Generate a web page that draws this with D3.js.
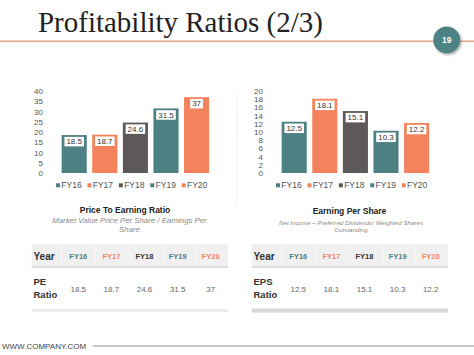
<!DOCTYPE html>
<html>
<head>
<meta charset="utf-8">
<script src="https://cdn.jsdelivr.net/npm/d3@7"></script>
<style>
  html, body { margin: 0; padding: 0; background: #fff; }
  svg { display: block; font-family: "Liberation Sans", Arial, sans-serif; }
</style>
</head>
<body>
<svg id="chart" width="474" height="355"></svg>
<script>
// ---- data ----
const categories = ["FY16", "FY17", "FY18", "FY19", "FY20"];
const peValues = [18.5, 18.7, 24.6, 31.5, 37];
const epsValues = [12.5, 18.1, 15.1, 10.3, 12.2];
const peTicks = [0, 5, 10, 15, 20, 25, 30, 35, 40];
const epsTicks = [0, 2, 4, 6, 8, 10, 12, 14, 16, 18, 20];
const titleText = "Profitability Ratios (2/3)";
const pageNumber = "19";
const panelTitles = ["Price To Earning Ratio", "Earning Per Share"];
const panelSubtitles = [
  ["Market Value Price Per Share / Earnings Per", "Share"],
  ["Net Income \u2013 Preferred Dividends/ Weighted Shares", "Outstanding"]
];
const rowLabels = [["PE", "Ratio"], ["EPS", "Ratio"]];

// ---- styles ----
const TEAL = "#4d8083", ORANGE = "#f4825c", GRAY = "#5d5958";
const barColors = [TEAL, ORANGE, GRAY, TEAL, ORANGE];
const headColors = ["#4d8083", "#f08763", "#333333", "#4d8083", "#f08763"];

const svg = d3.select("#chart");
const defs = svg.append("defs");
const f = defs.append("filter").attr("id", "sh").attr("x", "-50%").attr("y", "-50%").attr("width", "200%").attr("height", "200%");
f.append("feDropShadow").attr("dx", 1.5).attr("dy", 1.5).attr("stdDeviation", 1.2).attr("flood-color", "#000").attr("flood-opacity", 0.3);

// ---- header ----
svg.append("line").attr("x1", 0).attr("x2", 474).attr("y1", 41.3).attr("y2", 41.3)
  .attr("stroke", "#e6a387").attr("stroke-width", 1.6);

const title = svg.append("text").attr("x", 38).attr("y", 32.3)
  .attr("font-family", "'Liberation Serif', 'DejaVu Serif', serif")
  .attr("font-size", 100).attr("fill", "#222").text(titleText);
const tw = title.node().getComputedTextLength();
title.attr("font-size", 100 * 285 / tw);

svg.append("circle").attr("cx", 446.7).attr("cy", 40).attr("r", 13.5)
  .attr("fill", "#4e8385").attr("filter", "url(#sh)");
svg.append("text").attr("x", 446.7).attr("y", 43).attr("text-anchor", "middle")
  .attr("font-size", 8.5).attr("font-weight", "bold").attr("fill", "#fff").text(pageNumber);

// faint card edge
svg.append("line").attr("x1", 237).attr("x2", 237).attr("y1", 93).attr("y2", 205)
  .attr("stroke", "#efefef").attr("stroke-width", 1);

function panel(dx, values, ticks, ymax, idx) {
  const g = svg.append("g");
  const x = d3.scaleBand().domain(categories).range([58.9 + dx, 211.9 + dx])
    .paddingInner(0.18).paddingOuter(0.09);
  const y = d3.scaleLinear().domain([0, ymax]).range([173, 91]);

  const ax = g.append("g").attr("transform", `translate(${43 + dx},0)`)
    .call(d3.axisLeft(y).tickValues(ticks).tickSize(0).tickPadding(0));
  ax.select(".domain").remove();
  ax.selectAll("text").attr("font-size", 8).attr("fill", "#555")
    .attr("font-family", "'Liberation Sans', Arial, sans-serif");

  const data = categories.map((c, i) => ({ c, v: values[i], col: barColors[i] }));
  g.selectAll("rect.bar").data(data).enter().append("rect").attr("class", "bar")
    .attr("x", d => x(d.c)).attr("width", x.bandwidth())
    .attr("y", d => y(d.v)).attr("height", d => y(0) - y(d.v))
    .attr("fill", d => d.col);

  const lab = g.selectAll("g.lab").data(data).enter().append("g").attr("class", "lab");
  lab.each(function (d) {
    const s = d3.select(this);
    const t = s.append("text").attr("x", x(d.c) + x.bandwidth() / 2).attr("y", y(d.v) + 9.3)
      .attr("text-anchor", "middle").attr("font-size", 8).attr("fill", "#333").text(d.v);
    const w = t.node().getComputedTextLength() + 4;
    s.insert("rect", "text").attr("x", x(d.c) + x.bandwidth() / 2 - w / 2).attr("y", y(d.v) + 1.8)
      .attr("width", w).attr("height", 9.5).attr("fill", "#fff");
  });

  // legend
  const lx = d3.scalePoint().domain(categories).range([56 + dx, 181.7 + dx]);
  const lg = g.selectAll("g.leg").data(data).enter().append("g").attr("class", "leg")
    .attr("transform", d => `translate(${lx(d.c)},185.3)`);
  lg.append("rect").attr("x", 0).attr("y", -2).attr("width", 4).attr("height", 4).attr("fill", d => d.col);
  lg.append("text").attr("x", 5.3).attr("y", 3).attr("font-size", 8.5).attr("fill", "#555").text(d => d.c);

  // titles
  const tc = idx === 0 ? [125, 129.5] : [349.5, 351];
  g.append("text").attr("x", tc[0]).attr("y", idx === 0 ? 213 : 214).attr("text-anchor", "middle")
    .attr("font-size", 8.5).attr("font-weight", "bold").attr("fill", "#222").text(panelTitles[idx]);
  const sfs = idx === 0 ? 7.8 : 6.2;
  g.append("text").attr("x", tc[1]).attr("y", idx === 0 ? 222.8 : 224.5).attr("text-anchor", "middle")
    .attr("font-size", sfs).attr("font-style", "italic").attr("fill", "#8a8a8a").text(panelSubtitles[idx][0]);
  g.append("text").attr("x", tc[1]).attr("y", idx === 0 ? 231.5 : 231.5).attr("text-anchor", "middle")
    .attr("font-size", sfs).attr("font-style", "italic").attr("fill", "#8a8a8a").text(panelSubtitles[idx][1]);

  // table
  const tx0 = 31.7 + dx, tx1 = 228 + dx;
  g.append("rect").attr("x", tx0).attr("y", 244).attr("width", tx1 - tx0).attr("height", 23)
    .attr("fill", "#f0f0f0");
  const cx = d3.scalePoint().domain(categories).range([78.3 + dx, 210.7 + dx]);
  const sepPos = [61.5, 95.5, 129.7, 163, 195].map(v => v + dx);
  g.selectAll("line.sep").data(sepPos).enter().append("line").attr("class", "sep")
    .attr("x1", d => d).attr("x2", d => d).attr("y1", 244).attr("y2", 267)
    .attr("stroke", "#f8f8f8").attr("stroke-width", 1);
  g.append("line").attr("x1", tx0).attr("x2", tx1).attr("y1", 267).attr("y2", 267)
    .attr("stroke", "#d6d6d6").attr("stroke-width", 1.5);
  g.append("text").attr("x", 33.5 + dx).attr("y", 259.6).attr("font-size", 10).attr("font-weight", "bold")
    .attr("fill", "#333").text("Year");
  g.selectAll("text.hd").data(data).enter().append("text").attr("class", "hd")
    .attr("x", d => cx(d.c)).attr("y", 258.8).attr("text-anchor", "middle")
    .attr("font-size", 7.5).attr("font-weight", "bold").attr("fill", (d, i) => headColors[i]).text(d => d.c);
  g.append("text").attr("x", 33.5 + dx).attr("y", 284.5).attr("font-size", 9.5).attr("font-weight", "bold")
    .attr("fill", "#333").text(rowLabels[idx][0]);
  g.append("text").attr("x", 33.5 + dx).attr("y", 297.8).attr("font-size", 9.5).attr("font-weight", "bold")
    .attr("fill", "#333").text(rowLabels[idx][1]);
  g.selectAll("text.val").data(data).enter().append("text").attr("class", "val")
    .attr("x", d => cx(d.c)).attr("y", 292.3).attr("text-anchor", "middle")
    .attr("font-size", 8).attr("fill", "#666").text(d => d.v);
  g.append("line").attr("x1", tx0).attr("x2", tx1).attr("y1", 310.5).attr("y2", 310.5)
    .attr("stroke", idx === 0 ? "#ececec" : "#d6d6d6").attr("stroke-width", idx === 0 ? 3 : 4);
}

panel(0, peValues, peTicks, 40, 0);
panel(220, epsValues, epsTicks, 20, 1);

// footer
svg.append("text").attr("x", 2).attr("y", 349).attr("font-size", 8).attr("fill", "#444").text("WWW.COMPANY.COM");
svg.append("line").attr("x1", 93).attr("x2", 474).attr("y1", 346).attr("y2", 346)
  .attr("stroke", "#777").attr("stroke-width", 0.8);
</script>
</body>
</html>
